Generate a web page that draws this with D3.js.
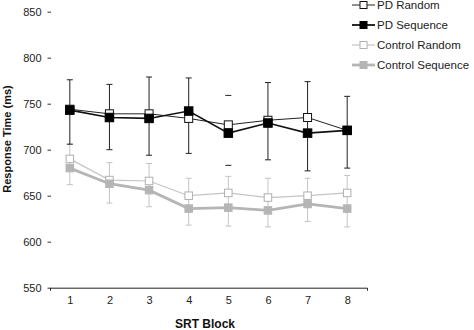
<!DOCTYPE html>
<html>
<head>
<meta charset="utf-8">
<script src="https://cdn.jsdelivr.net/npm/d3@7"></script>
<style>
  body { margin: 0; background: #fff; }
  svg { font-family: 'Liberation Sans', Arial, sans-serif; }
</style>
</head>
<body>
<svg id="chart" width="474" height="330"></svg>
<script>
// SRT blocks and mean response times (ms)
const blocks = [1, 2, 3, 4, 5, 6, 7, 8]
const pdRandom = [744, 739, 739, 734, 727, 732, 735, 721]
const pdSequence = [743, 735, 734, 742, 718, 729, 718, 721]
const controlRandom = [690, 667, 666, 650, 653, 648, 650, 653]
const controlSequence = [680, 663, 656, 636, 637, 634, 641, 636]

// error bar limits
const pdUpper = [776, 771, 779, 778, 759, 773, 774, 758]
const pdLower = [706, 700, 694, 696, 683, 689, 677, 680]
const controlUpper = [706, 686, 685, 669, 671, 669, 669, 672]
const controlLower = [662, 642, 638, 618, 617, 616, 622, 616]

const yTicks = [550, 600, 650, 700, 750, 800, 850]

const svg = d3.select('#chart')

const x = d3.scaleLinear().domain([0.5, 8.5]).range([50, 367])
const y = d3.scaleLinear().domain([550, 850]).range([287.7, 11.7])

// Y axis: ticks only, no spine
const yAxis = svg.append('g')
  .attr('transform', 'translate(51,0)')
  .call(d3.axisLeft(y).tickValues(yTicks).tickSize(3.5).tickPadding(6))
yAxis.select('.domain').remove()
yAxis.selectAll('line').attr('stroke', '#333')
yAxis.selectAll('text').attr('font-size', 11).attr('fill', '#222')
  .attr('font-family', "'Liberation Sans', Arial, sans-serif")

// X axis
const xAxis = svg.append('g')
  .attr('transform', `translate(0,${y(550)})`)
  .call(d3.axisBottom(x).tickValues(blocks).tickSize(0).tickPadding(9).tickSizeOuter(3))
xAxis.select('.domain').attr('stroke', '#222')
xAxis.selectAll('text').attr('font-size', 11).attr('fill', '#222')
  .attr('font-family', "'Liberation Sans', Arial, sans-serif")

// Axis titles
svg.append('text')
  .attr('x', 205).attr('y', 328)
  .attr('text-anchor', 'middle')
  .attr('font-size', 12).attr('font-weight', 'bold').attr('fill', '#111')
  .text('SRT Block')

svg.append('text')
  .attr('transform', 'translate(11,139) rotate(-90)')
  .attr('text-anchor', 'middle')
  .attr('font-size', 11).attr('font-weight', 'bold').attr('fill', '#111')
  .text('Response Time (ms)')

function errorBars (upper, lower, color, skipStem) {
  const g = svg.append('g').attr('stroke', color).attr('stroke-width', 1)
  blocks.forEach((b, i) => {
    const cx = x(b)
    if (!skipStem.includes(b)) {
      g.append('line').attr('x1', cx).attr('x2', cx)
        .attr('y1', y(upper[i])).attr('y2', y(lower[i]))
    }
    ;[upper[i], lower[i]].forEach(v => {
      g.append('line').attr('x1', cx - 3).attr('x2', cx + 3)
        .attr('y1', y(v)).attr('y2', y(v))
    })
  })
}

const lineGen = d3.line().x((d, i) => x(blocks[i])).y(d => y(d))

function series (values, lineColor, lineWidth, fill, stroke, size) {
  svg.append('path')
    .datum(values)
    .attr('d', lineGen)
    .attr('fill', 'none')
    .attr('stroke', lineColor)
    .attr('stroke-width', lineWidth)
  svg.append('g').selectAll('rect')
    .data(values)
    .enter().append('rect')
    .attr('x', (d, i) => x(blocks[i]) - size / 2)
    .attr('y', d => y(d) - size / 2)
    .attr('width', size).attr('height', size)
    .attr('fill', fill)
    .attr('stroke', stroke)
    .attr('stroke-width', 1)
}

// control group first, PD drawn on top
errorBars(controlUpper, controlLower, '#c4c4c4', [])
series(controlRandom, '#c4c4c4', 1.2, '#fff', '#b0b0b0', 7.5)
series(controlSequence, '#b5b5b5', 2.8, '#b5b5b5', '#b5b5b5', 7.5)

// block 5 of the PD group shows caps only
errorBars(pdUpper, pdLower, '#222', [5])
series(pdRandom, '#222', 1, '#fff', '#111', 8)
series(pdSequence, '#111', 1.6, '#000', '#000', 8.5)

// Legend
const legendItems = [
  { name: 'PD Random', line: '#222', lw: 1, fill: '#fff', stroke: '#111' },
  { name: 'PD Sequence', line: '#111', lw: 1.8, fill: '#000', stroke: '#000' },
  { name: 'Control Random', line: '#c4c4c4', lw: 1.2, fill: '#fff', stroke: '#b0b0b0' },
  { name: 'Control Sequence', line: '#b5b5b5', lw: 2.8, fill: '#b5b5b5', stroke: '#b5b5b5' }
]

const legend = svg.append('g')
legendItems.forEach((d, i) => {
  const cy = 5 + i * 20
  legend.append('line')
    .attr('x1', 352).attr('x2', 375).attr('y1', cy).attr('y2', cy)
    .attr('stroke', d.line).attr('stroke-width', d.lw)
  legend.append('rect')
    .attr('x', 363.5 - 3.5).attr('y', cy - 3.5)
    .attr('width', 7).attr('height', 7)
    .attr('fill', d.fill).attr('stroke', d.stroke)
  legend.append('text')
    .attr('x', 377).attr('y', cy + 4)
    .attr('font-size', 11.5).attr('fill', '#222')
    .text(d.name)
})
</script>
</body>
</html>
